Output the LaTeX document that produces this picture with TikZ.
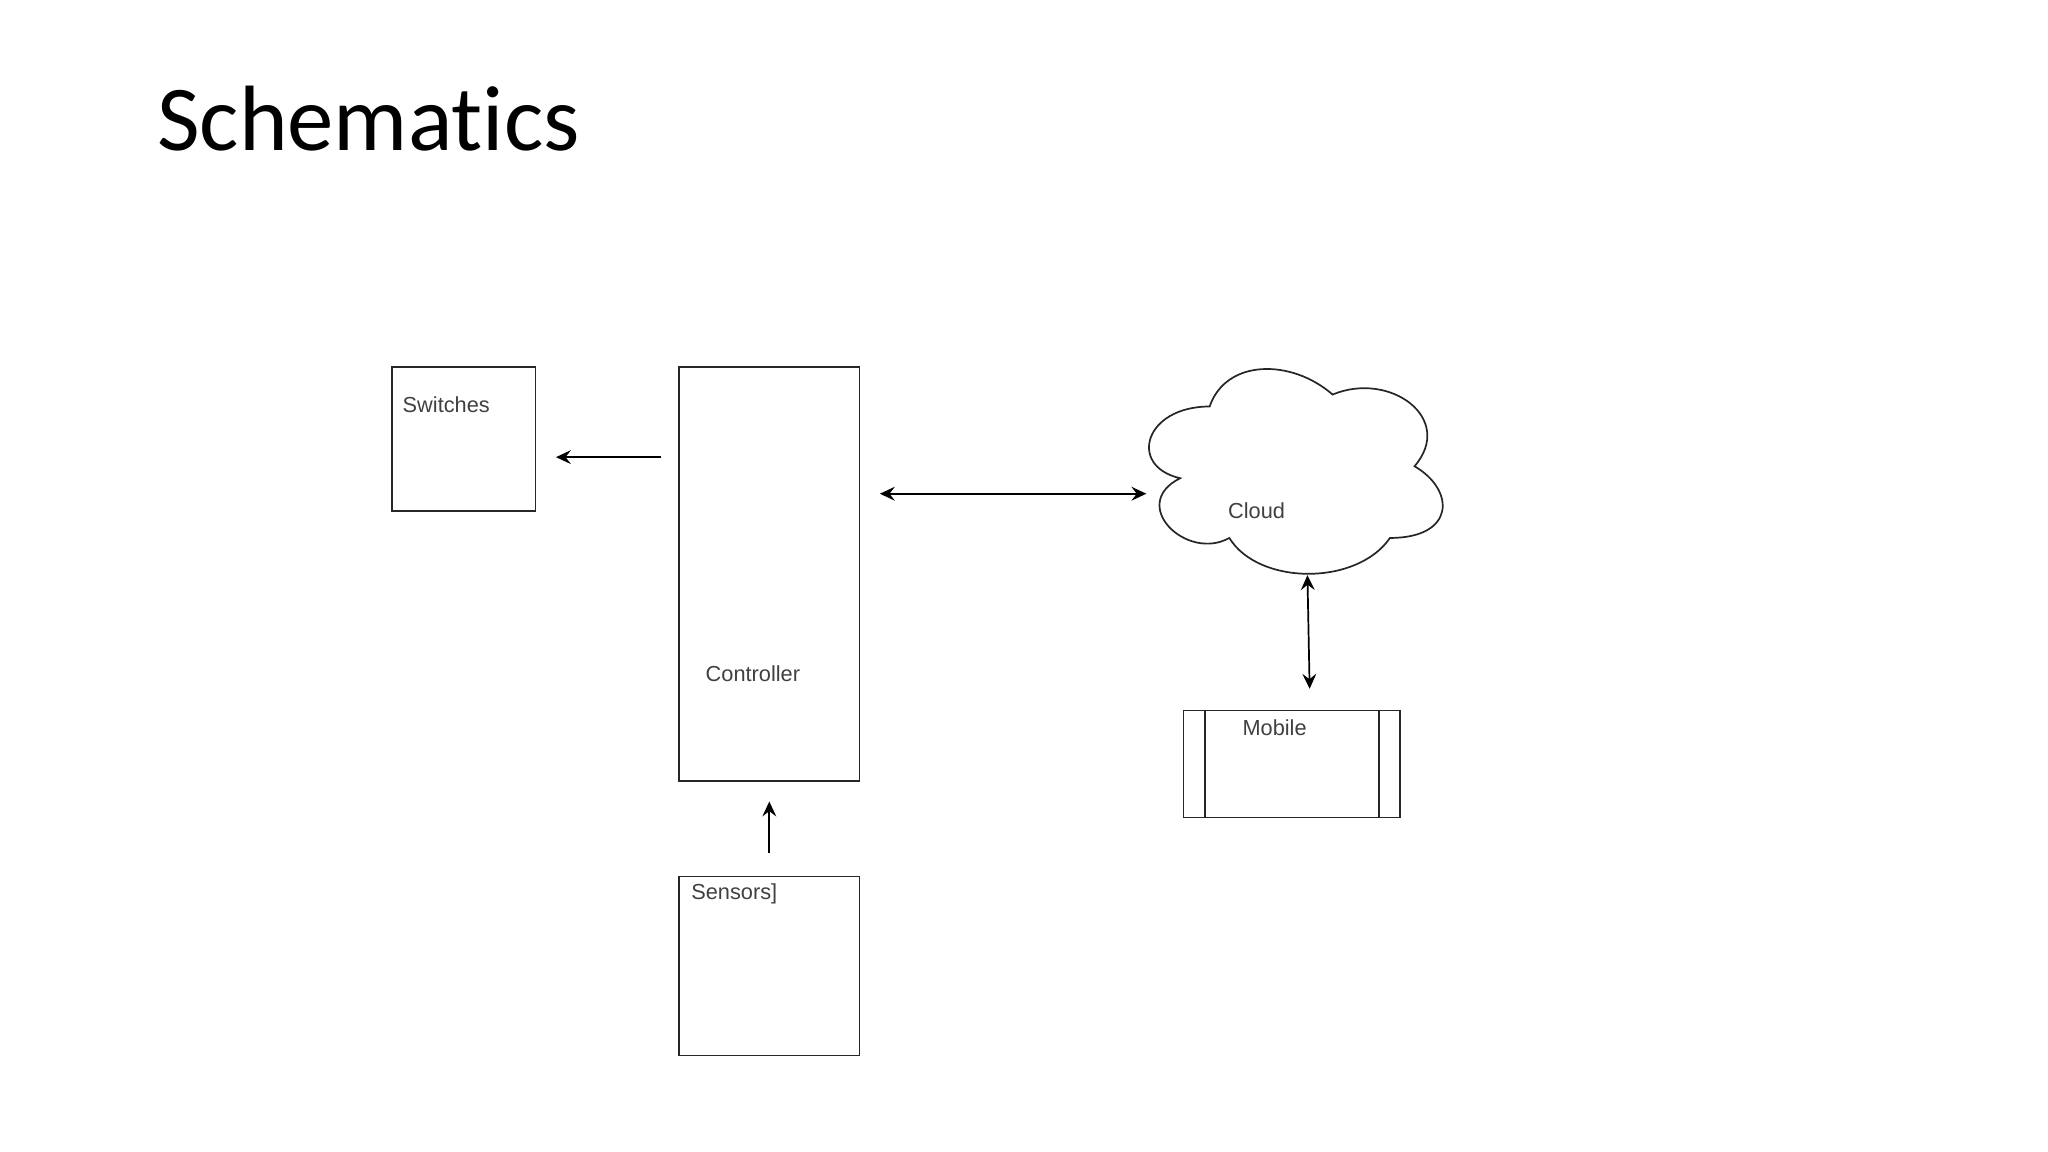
\documentclass[tikz,border=0pt]{standalone}
\usepackage{fontspec}
\setmainfont{Liberation Sans}
\newfontfamily\titlefont[Ligatures={NoCommon}]{Carlito}
\usepackage{tikz}
\usetikzlibrary{arrows.meta,positioning,calc}
\def\upx{0.612245pt}
\tikzset{
  box/.style={draw=black!85,line width=0.8pt,rectangle,inner sep=0pt},
  txt/.style={anchor=west,inner sep=0pt,font=\fontsize{10.2}{12}\selectfont,text=black!75},
  link/.style={line width=0.8pt,-{Stealth[length=7pt,width=6.5pt,inset=2.5pt]}},
  twoway/.style={line width=0.8pt,{Stealth[length=7pt,width=6.5pt,inset=2.5pt]}-{Stealth[length=7pt,width=6.5pt,inset=2.5pt]}}
}
\begin{document}
\begin{tikzpicture}[x=\upx,y=-\upx]
\useasboundingbox (0,0) rectangle (1568,882);
\node[anchor=base west,inner sep=0pt,font=\titlefont\fontsize{43.5}{50}\selectfont] (title) at (120,115) {Schematics};
\node[box] (sw)[minimum width=110*\upx,minimum height=110*\upx] at (355,336) {};
\node[box] (ctrl)[minimum width=138*\upx,minimum height=317*\upx] at (589,439.5) {};
\node[box] (sen)[minimum width=138*\upx,minimum height=137*\upx] at (589,739.5) {};
\node[box] (mob)[minimum width=166*\upx,minimum height=82*\upx] at (989,585) {};
\node[inner sep=0pt] (cloud)[minimum width=225*\upx,minimum height=157*\upx] at (992.5,361.5) {};
\draw[shift={($(cloud.north west)+(-16.3,-17.2)$)},x=251*\upx,y=-183*\upx,line width=0.8pt,draw=black!85]
  (0.25,0.25) .. controls (0.05,0.25) and (0,0.5) .. (0.16,0.55)
  .. controls (0,0.66) and (0.18,0.9) .. (0.31,0.8)
  .. controls (0.4,1) and (0.7,1) .. (0.8,0.8)
  .. controls (1,0.8) and (1,0.6) .. (0.875,0.5)
  .. controls (1,0.3) and (0.8,0.1) .. (0.625,0.2)
  .. controls (0.5,0.05) and (0.3,0.05) .. (0.25,0.25) -- cycle;
\node[txt] (swtxt) at (308,310) {Switches};
\node[txt] (ctrltxt) at (540,516) {Controller};
\node[txt] (sentxt) at (529,684) {Sensors]};
\node[txt] (mobtxt) at (951,557) {Mobile};
\node[txt] (cloudtxt) at (940,391) {Cloud};
\draw[line width=0.8pt,draw=black!85] ([xshift=17*\upx]mob.north west)--([xshift=17*\upx]mob.south west);
\draw[line width=0.8pt,draw=black!85] ([xshift=-17*\upx]mob.north east)--([xshift=-17*\upx]mob.south east);
\draw[link,shorten <=13*\upx,shorten >=15*\upx] (ctrl.west |- 0,350)--(sw.east |- 0,350);
\draw[twoway,shorten <=15*\upx,shorten >=2*\upx] (ctrl.east |- 0,378)--(cloud.west |- 0,378);
\draw[twoway,shorten >=16*\upx] (1001,0 |- cloud.south)--(1003,0 |- mob.north);
\draw[link,shorten <=17*\upx,shorten >=15*\upx] (sen.north)--(ctrl.south);
\end{tikzpicture}
\end{document}
